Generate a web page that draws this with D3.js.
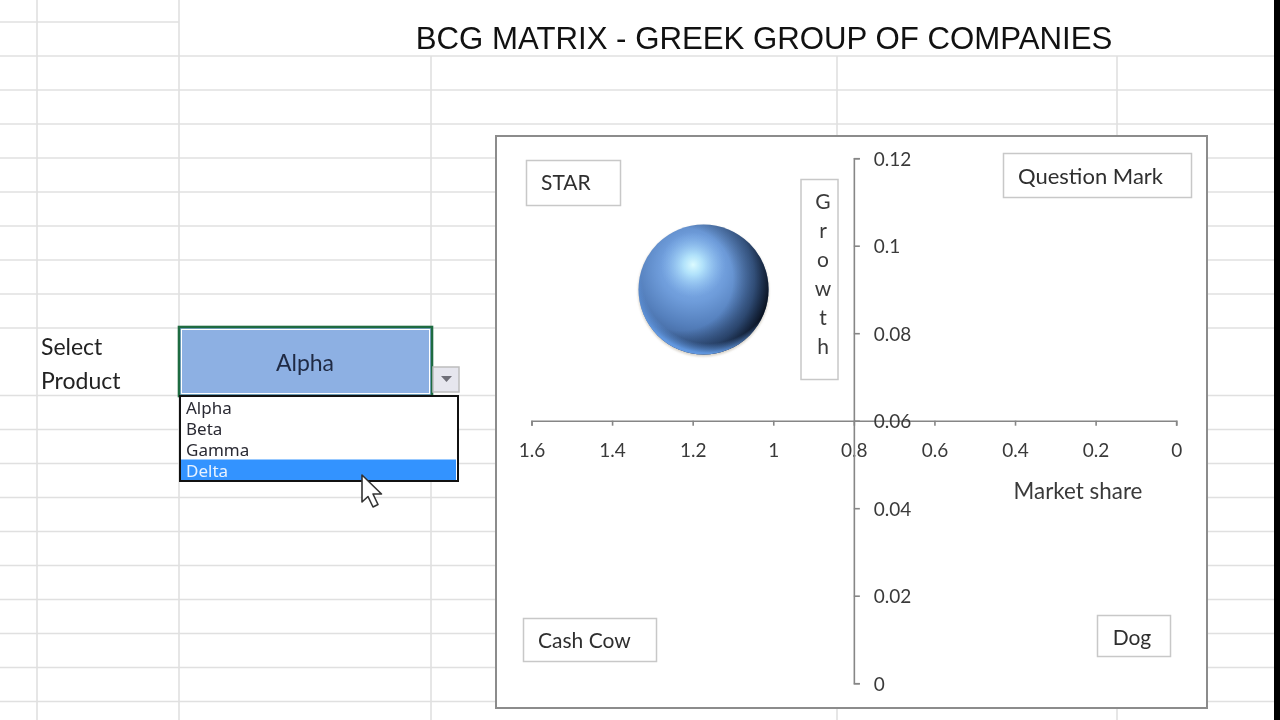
<!DOCTYPE html>
<html><head><meta charset="utf-8">
<script src="https://cdnjs.cloudflare.com/ajax/libs/d3/7.9.0/d3.min.js"></script>
<style>html,body{margin:0;padding:0;background:#fff;overflow:hidden}svg{display:block;filter:blur(0.4px)}</style>
</head><body><svg id="c" width="1280" height="720"></svg>
<script>
// ---- chart data ----
const marketShare = [1.173];
const growth = [0.09];
const bubbleSize = [1];
const xTicks = [1.6, 1.4, 1.2, 1, 0.8, 0.6, 0.4, 0.2, 0];
const yTicks = [0.12, 0.1, 0.08, 0.06, 0.04, 0.02, 0];
const menuItems = ["Alpha", "Beta", "Gamma", "Delta"];
const title = "BCG MATRIX - GREEK GROUP OF COMPANIES";
const selected = "Alpha";
const selectLabel = ["Select", "Product"];
const xAxisTitle = "Market share";
const yAxisTitle = ["G", "r", "o", "w", "t", "h"];
const quadrants = [
  {t:"STAR", x:526.5, y:160.5, w:94, h:45, fs:21, dy:29},
  {t:"Question Mark", x:1003.5, y:153.5, w:188, h:44, fs:22, dy:30},
  {t:"Cash Cow", x:523.5, y:618.5, w:133, h:43, fs:21, dy:29},
  {t:"Dog", x:1097.5, y:615.5, w:73, h:41, fs:21, dy:29.5}
];
const gridRows = [22, 56, 90, 124, 158, 192, 226, 260, 294, 328, 395.5, 429.5, 463.5, 497.5, 531.5, 565.5, 599.5, 633.5, 667.5, 701.5];
const gridCols = [37, 179, 431, 837, 1117];

const calibri = "Lato, Carlito, sans-serif";
const svg = d3.select("#c");
const defs = svg.append("defs");

// ---- sheet grid ----
const GRID = "#e0e0e0";
const grid = svg.append("g").attr("stroke", GRID).attr("stroke-width", 1.6);
grid.selectAll("line.r").data(gridRows).join("line").attr("class","r")
  .attr("x1",0).attr("x2",d=>d===22?179:1274).attr("y1",d=>d).attr("y2",d=>d);
grid.selectAll("line.c").data(gridCols).join("line").attr("class","c")
  .attr("x1",d=>d).attr("x2",d=>d).attr("y1",d=>d>200?56:0).attr("y2",720);

svg.append("rect").attr("x",1274).attr("y",0).attr("width",6).attr("height",720).attr("fill","#000");

// ---- title ----
svg.append("rect").attr("x",180).attr("y",0).attr("width",1094).attr("height",55).attr("fill","#fff");
svg.append("text").text(title).attr("x",764).attr("y",49).attr("text-anchor","middle")
  .attr("font-family","'Liberation Sans', Arial, sans-serif").attr("font-size",31.2).attr("fill","#111");

// ---- left labels ----
svg.append("g").selectAll("text").data(selectLabel).join("text").text(d=>d)
  .attr("x",41).attr("y",(d,i)=>355+i*34)
  .attr("font-family",calibri).attr("font-size",23).attr("fill","#222");

// ---- selected cell ----
svg.append("rect").attr("x",179).attr("y",327).attr("width",253).attr("height",69)
  .attr("fill","#8db0e3").attr("stroke","#1e6b41").attr("stroke-width",2.6);
svg.append("rect").attr("x",181.5).attr("y",329.5).attr("width",248).attr("height",64)
  .attr("fill","none").attr("stroke","#fff").attr("stroke-width",1);
svg.append("text").text(selected).attr("x",305).attr("y",371).attr("text-anchor","middle")
  .attr("font-family",calibri).attr("font-size",23).attr("fill","#1f2a44");

// dropdown button
svg.append("rect").attr("x",433).attr("y",367).attr("width",26).attr("height",25)
  .attr("fill","#e6e6ee").attr("stroke","#bdbdbd").attr("stroke-width",1.5);
svg.append("path").attr("d","M441 376h11l-5.500 6z").attr("fill","#6f6f78");

// dropdown list
svg.append("rect").attr("x",180).attr("y",396).attr("width",278).attr("height",85)
  .attr("fill","#fff").attr("stroke","#111").attr("stroke-width",2);
const rowY = d3.scaleBand().domain(menuItems).range([397,481]);
svg.append("rect").attr("x",181).attr("y",rowY("Delta")-0.5).attr("width",275).attr("height",rowY.bandwidth()-0.5)
  .attr("fill","#3393ff");
svg.append("g").selectAll("text").data(menuItems).join("text").text(d=>d)
  .attr("x",186).attr("y",d=>rowY(d)+rowY.bandwidth()/2+6)
  .attr("font-family","'Noto Sans', sans-serif").attr("font-size",17)
  .attr("fill",d=>d==="Delta"?"#e8f2ff":"#2a2a33");

// ---- chart frame ----
svg.append("rect").attr("x",496).attr("y",136).attr("width",711).attr("height",572)
  .attr("fill","#fff").attr("stroke","#8c8c8c").attr("stroke-width",2);

// ---- scales ----
const x = d3.scaleLinear().domain([1.6,0]).range([531.5,1176.2]);
const y = d3.scaleLinear().domain([0,0.12]).range([683.2,158.2]);
const r = d3.scaleSqrt().domain([0,1]).range([0,65]);

// ---- bubble ----
const grad = (id, attrs, stops) => {
  const g = defs.append("radialGradient").attr("id", id);
  Object.entries(attrs).forEach(([k,v])=>g.attr(k,v));
  stops.forEach(s=>g.append("stop").attr("offset",s[0]).attr("stop-color",s[1]).attr("stop-opacity",s[2]));
};
grad("base",{cx:"42%",cy:"34%",r:"72%"},
  [[0,"#8ab8ee",1],[0.35,"#6f9ddb",1],[0.6,"#5580bd",1],[0.85,"#3c5f94",1],[1,"#2f5083",1]]);
grad("dark",{cx:"33%",cy:"42%",r:"72%"},
  [[0,"#060c18",0],[0.55,"#060c18",0],[0.78,"#0a1628",0.42],[0.92,"#060c18",0.8],[1,"#000",1]]);
grad("rim",{cx:"54%",cy:"40%",r:"62%"},
  [[0,"#5f95de",0],[0.83,"#5f95de",0],[0.95,"#6299e2",0.95],[1,"#6aa0ea",1]]);
grad("hi",{},[[0,"#dcfbff",1],[0.3,"#bdeeff",0.8],[1,"#8fc0f5",0]]);
defs.append("filter").attr("id","soft").attr("x","-20%").attr("y","-20%").attr("width","140%").attr("height","140%")
  .append("feGaussianBlur").attr("stdDeviation",1.3);

const bubbles = d3.range(marketShare.length).map(i=>({s:marketShare[i],g:growth[i],z:bubbleSize[i]}));
const bg = svg.append("g");
bg.selectAll("circle.shadow").data(bubbles).join("circle").attr("class","shadow")
  .attr("cx",d=>x(d.s)).attr("cy",d=>y(d.g)+1.5).attr("r",d=>r(d.z)+0.5)
  .attr("fill","#b8ae9c").attr("opacity",0.55).attr("filter","url(#soft)");
["base","dark","rim"].forEach(id=>{
  bg.selectAll("circle."+id).data(bubbles).join("circle").attr("class",id)
    .attr("cx",d=>x(d.s)).attr("cy",d=>y(d.g)).attr("r",d=>r(d.z)).attr("fill",`url(#${id})`);
});
bg.selectAll("circle.hi").data(bubbles).join("circle").attr("class","hi")
  .attr("cx",d=>x(d.s)-r(d.z)*0.16).attr("cy",d=>y(d.g)-r(d.z)*0.38).attr("r",d=>r(d.z)*0.5).attr("fill","url(#hi)");

// ---- axes ----
const AX = "#868686", TXT = "#3a3a3a";
const xg = svg.append("g").attr("transform",`translate(0,${y(0.06)})`)
  .call(d3.axisBottom(x).tickValues(xTicks).tickFormat(d=>String(d)).tickSize(5).tickPadding(18));
const yg = svg.append("g").attr("transform",`translate(${x(0.8)},0)`)
  .call(d3.axisRight(y).tickValues(yTicks).tickFormat(d=>String(d)).tickSize(6).tickPadding(14));
[xg,yg].forEach(g=>{
  g.selectAll("path,line").attr("stroke",AX).attr("stroke-width",1.6);
  g.selectAll("text").attr("font-family",calibri).attr("font-size",19).attr("fill",TXT);
});
yg.selectAll("text").attr("transform","translate(0,1.2)");

// ---- axis titles & quadrant boxes ----
svg.append("text").text(xAxisTitle).attr("x",1078).attr("y",499).attr("text-anchor","middle")
  .attr("font-family",calibri).attr("font-size",22.4).attr("fill",TXT);

const BOX = "#c8c8c8";
svg.append("rect").attr("x",801).attr("y",179.5).attr("width",37).attr("height",200)
  .attr("fill","#fff").attr("stroke",BOX).attr("stroke-width",1.5);
svg.append("g").selectAll("text").data(yAxisTitle).join("text").text(d=>d)
  .attr("x",823).attr("y",(d,i)=>209+i*29).attr("text-anchor","middle")
  .attr("font-family",calibri).attr("font-size",21).attr("fill",TXT);

const qg = svg.append("g").selectAll("g").data(quadrants).join("g");
qg.append("rect").attr("x",d=>d.x).attr("y",d=>d.y).attr("width",d=>d.w).attr("height",d=>d.h)
  .attr("fill","#fff").attr("stroke",BOX).attr("stroke-width",1.5);
qg.append("text").text(d=>d.t).attr("x",d=>d.x+14.5).attr("y",d=>d.y+d.dy)
  .attr("font-family",calibri).attr("font-size",d=>d.fs).attr("fill","#2f2f2f");
qg.filter(d=>d.t==="Dog").select("text").attr("x",d=>d.x+d.w/2-2).attr("text-anchor","middle");

// ---- mouse cursor ----
svg.append("path").attr("d","M362 475v27l6-5.500 5 10.500 5-2.500-5-10.500h8.500z")
  .attr("fill","#fff").attr("stroke","#333").attr("stroke-width",1.6).attr("stroke-linejoin","round");
</script></body></html>
